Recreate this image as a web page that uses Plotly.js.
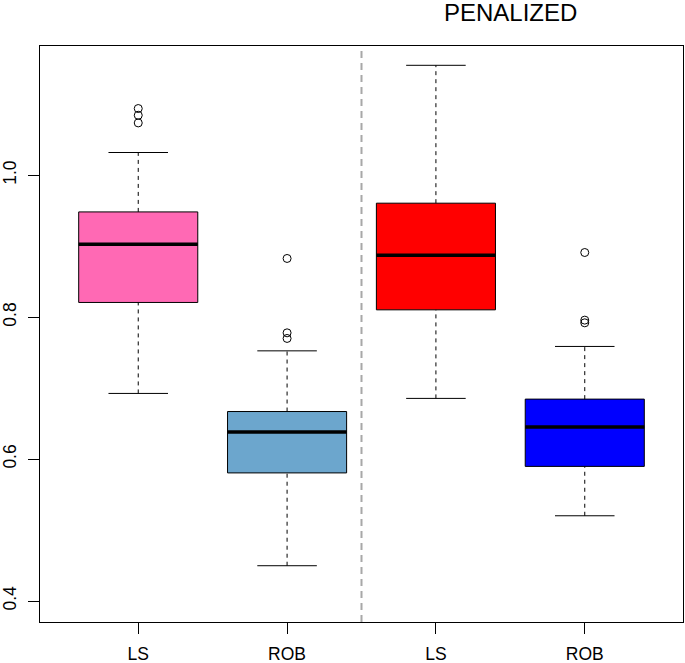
<!DOCTYPE html>
<html>
<head>
<meta charset="utf-8">
<script src="https://cdn.plot.ly/plotly-3.0.1.min.js"></script>
<style>
  html, body { margin: 0; padding: 0; background: #fff; }
  #chart { width: 685px; height: 663px; }
</style>
</head>
<body>
<div id="chart"></div>
<script>
// groups along the x axis (positions 1..4)
var groups = ['LS', 'ROB', 'LS', 'ROB'];
var positions = [1, 2, 3, 4];

// box statistics
var lowWhisker = [0.6925, 0.4497, 0.6855, 0.5201];
var q1 = [0.8207, 0.5805, 0.8103, 0.5897];
var median = [0.9028, 0.6382, 0.8873, 0.6451];
var q3 = [0.9483, 0.6670, 0.9606, 0.6845];
var highWhisker = [1.0320, 0.7525, 1.1549, 0.7587];

// outlying points per box
var outliers = [
  [1.0940, 1.0845, 1.0737],
  [0.8827, 0.7779, 0.7700],
  [],
  [0.8911, 0.7958, 0.7920]
];

var yTicks = [0.4, 0.6, 0.8, 1.0];
var yTickText = ['0.4', '0.6', '0.8', '1.0'];
var sectionTitle = 'PENALIZED';

var fills = ['#FF69B4', '#6CA6CD', '#FF0000', '#0000FF'];
var boxWidth = 0.8;
var font = 'Liberation Sans, Arial, Helvetica, sans-serif';

var data = [];

// boxes (no whiskers, those are drawn dashed below)
positions.forEach(function (p, i) {
  data.push({
    type: 'box',
    x: [p],
    q1: [q1[i]],
    median: [median[i]],
    q3: [q3[i]],
    lowerfence: [q1[i]],
    upperfence: [q3[i]],
    width: boxWidth,
    fillcolor: fills[i],
    line: {color: '#000', width: 1},
    whiskerwidth: 0,
    hoverinfo: 'skip'
  });
});

// dashed whiskers
var wx = [], wy = [];
positions.forEach(function (p, i) {
  wx.push(p, p, null, p, p, null);
  wy.push(lowWhisker[i], q1[i], null, q3[i], highWhisker[i], null);
});
data.push({
  type: 'scatter', mode: 'lines', x: wx, y: wy,
  line: {color: '#000', width: 1, dash: '4px,4px'},
  hoverinfo: 'skip'
});

// whisker caps
var cx = [], cy = [];
positions.forEach(function (p, i) {
  cx.push(p - boxWidth / 4, p + boxWidth / 4, null, p - boxWidth / 4, p + boxWidth / 4, null);
  cy.push(lowWhisker[i], lowWhisker[i], null, highWhisker[i], highWhisker[i], null);
});
data.push({
  type: 'scatter', mode: 'lines', x: cx, y: cy,
  line: {color: '#000', width: 1},
  hoverinfo: 'skip'
});

// thick medians
var mx = [], my = [];
positions.forEach(function (p, i) {
  mx.push(p - boxWidth / 2, p + boxWidth / 2, null);
  my.push(median[i], median[i], null);
});
data.push({
  type: 'scatter', mode: 'lines', x: mx, y: my,
  line: {color: '#000', width: 3.5},
  hoverinfo: 'skip'
});

// outliers as open circles
var ox = [], oy = [];
positions.forEach(function (p, i) {
  outliers[i].forEach(function (v) { ox.push(p); oy.push(v); });
});
data.push({
  type: 'scatter', mode: 'markers', x: ox, y: oy,
  marker: {symbol: 'circle-open', size: 8, color: '#000', line: {width: 1, color: '#000'}},
  hoverinfo: 'skip'
});

var layout = {
  width: 685,
  height: 663,
  margin: {l: 40, r: 2, t: 46, b: 41, pad: 0},
  paper_bgcolor: '#fff',
  plot_bgcolor: '#fff',
  showlegend: false,
  boxmode: 'overlay',
  font: {family: font, size: 18, color: '#000'},
  xaxis: {
    range: [0.34, 4.66],
    tickvals: positions,
    ticktext: groups,
    ticks: 'outside', ticklen: 11, tickwidth: 1, tickcolor: '#000',
    ticklabelstandoff: 5,
    showline: true, mirror: true, linecolor: '#000', linewidth: 1,
    showgrid: false, zeroline: false, automargin: false,
    tickfont: {family: font, size: 17.5, color: '#000'}
  },
  yaxis: {
    range: [0.3704, 1.1821],
    tickvals: yTicks,
    ticktext: yTickText,
    tickangle: -90,
    ticks: 'outside', ticklen: 11, tickwidth: 1, tickcolor: '#000',
    ticklabelstandoff: 5,
    showline: true, mirror: true, linecolor: '#000', linewidth: 1,
    showgrid: false, zeroline: false, automargin: false,
    tickfont: {family: font, size: 17.5, color: '#000'}
  },
  shapes: [{
    type: 'line', xref: 'x', yref: 'paper',
    x0: 2.5, x1: 2.5, y0: 0, y1: 1,
    line: {color: '#A8A8A8', width: 2, dash: '7px,5px'}
  }],
  annotations: [{
    text: sectionTitle,
    xref: 'x', yref: 'paper',
    x: 3.5, y: 1.058, yanchor: 'middle', xanchor: 'center',
    showarrow: false,
    font: {family: font, size: 24, color: '#000'}
  }]
};

Plotly.newPlot('chart', data, layout, {displayModeBar: false, staticPlot: true});
</script>
</body>
</html>
